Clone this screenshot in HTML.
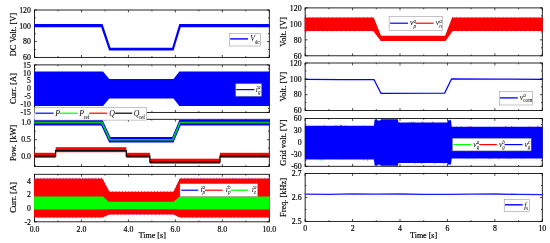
<!DOCTYPE html>
<html lang="en"><head><meta charset="utf-8"><title>Simulation results</title>
<style>html,body{margin:0;padding:0;background:#fff}svg{display:block}text{font-family:"Liberation Serif", serif;fill:#000;stroke:#000;stroke-width:0.18px}.t{font-size:7.8px}.l{font-size:8px}.yl{font-size:8.4px}.i{font-style:italic;stroke:none}</style>
</head><body>
<svg width="550" height="243" viewBox="0 0 550 243">
<rect width="550" height="243" fill="#fff"/>
<clipPath id="cL1"><rect x="34.05" y="10" width="235.7" height="47.4"/></clipPath>
<path d="M34.5,57.4v-2.4M34.5,10v2.4M81.46,57.4v-2.4M81.46,10v2.4M128.42,57.4v-2.4M128.42,10v2.4M175.38,57.4v-2.4M175.38,10v2.4M222.34,57.4v-2.4M222.34,10v2.4M269.3,57.4v-2.4M269.3,10v2.4M57.98,57.4v-1.3M57.98,10v1.3M104.94,57.4v-1.3M104.94,10v1.3M151.9,57.4v-1.3M151.9,10v1.3M198.86,57.4v-1.3M198.86,10v1.3M245.82,57.4v-1.3M245.82,10v1.3M34.5,57.4h2.4M269.3,57.4h-2.4M34.5,41.6h2.4M269.3,41.6h-2.4M34.5,25.8h2.4M269.3,25.8h-2.4M34.5,10h2.4M269.3,10h-2.4M34.5,49.5h1.3M269.3,49.5h-1.3M34.5,33.7h1.3M269.3,33.7h-1.3M34.5,17.9h1.3M269.3,17.9h-1.3" stroke="#000" stroke-width="0.7" fill="none"/>
<rect x="34.5" y="10" width="234.8" height="47.4" fill="none" stroke="#000" stroke-width="0.85"/>
<text x="30.9" y="60.1" text-anchor="end" class="t">60</text>
<text x="30.9" y="44.3" text-anchor="end" class="t">80</text>
<text x="30.9" y="28.5" text-anchor="end" class="t">100</text>
<text x="30.9" y="12.7" text-anchor="end" class="t">120</text>
<polygon points="34.05,24.05 102.59,24.05 110.5,47.7 172.16,47.7 179.3,24.05 269.75,24.05 269.75,27.35 180.71,27.35 173.57,50.5 109.1,50.5 101.18,27.35 34.05,27.35" fill="#0000ff" clip-path="url(#cL1)"/>
<rect x="229.3" y="33.3" width="31.1" height="12.7" fill="#fff" stroke="#8a8a8a" stroke-width="0.5"/>
<line x1="230.2" y1="38.9" x2="248" y2="38.9" stroke="#0000ff" stroke-width="1.4"/>
<text x="250.2" y="41.2" class="i" font-size="7.8">V<tspan font-size="5.4" dy="2.4" dx="-0.3" font-style="normal">dc</tspan></text>
<text transform="translate(15.6,34.6) rotate(-90)" text-anchor="middle" class="yl">DC Volt. [V]</text>
<path d="M34.5,112.4v-2.4M34.5,64.9v2.4M81.46,112.4v-2.4M81.46,64.9v2.4M128.42,112.4v-2.4M128.42,64.9v2.4M175.38,112.4v-2.4M175.38,64.9v2.4M222.34,112.4v-2.4M222.34,64.9v2.4M269.3,112.4v-2.4M269.3,64.9v2.4M57.98,112.4v-1.3M57.98,64.9v1.3M104.94,112.4v-1.3M104.94,64.9v1.3M151.9,112.4v-1.3M151.9,64.9v1.3M198.86,112.4v-1.3M198.86,64.9v1.3M245.82,112.4v-1.3M245.82,64.9v1.3M34.5,112.4h2.4M269.3,112.4h-2.4M34.5,104.48h2.4M269.3,104.48h-2.4M34.5,96.57h2.4M269.3,96.57h-2.4M34.5,88.65h2.4M269.3,88.65h-2.4M34.5,80.73h2.4M269.3,80.73h-2.4M34.5,72.82h2.4M269.3,72.82h-2.4M34.5,64.9h2.4M269.3,64.9h-2.4M34.5,108.44h1.3M269.3,108.44h-1.3M34.5,100.53h1.3M269.3,100.53h-1.3M34.5,92.61h1.3M269.3,92.61h-1.3M34.5,84.69h1.3M269.3,84.69h-1.3M34.5,76.78h1.3M269.3,76.78h-1.3M34.5,68.86h1.3M269.3,68.86h-1.3" stroke="#000" stroke-width="0.7" fill="none"/>
<rect x="34.5" y="64.9" width="234.8" height="47.5" fill="none" stroke="#000" stroke-width="0.85"/>
<text x="30.9" y="115.1" text-anchor="end" class="t">-15</text>
<text x="30.9" y="107.18" text-anchor="end" class="t">-10</text>
<text x="30.9" y="99.27" text-anchor="end" class="t">-5</text>
<text x="30.9" y="91.35" text-anchor="end" class="t">0</text>
<text x="30.9" y="83.43" text-anchor="end" class="t">5</text>
<text x="30.9" y="75.52" text-anchor="end" class="t">10</text>
<text x="30.9" y="67.6" text-anchor="end" class="t">15</text>
<polygon points="34.05,71.4 103.06,71.4 109.31,78.9 173.5,78.9 179.37,71.4 269.75,71.4 269.75,105.9 179.37,105.9 173.5,98.4 109.31,98.4 103.06,105.9 34.05,105.9" fill="#0000ff"/>
<rect x="235.8" y="83.8" width="25.7" height="12.4" fill="#fff" stroke="#8a8a8a" stroke-width="0.5"/>
<line x1="236.3" y1="89.6" x2="254.3" y2="89.6" stroke="#0000ff" stroke-width="1.2"/>
<text x="255.8" y="91.5" class="i" font-size="7.8">i<tspan font-size="5.2" dy="-2.7">a</tspan><tspan font-size="5.2" dy="4.9" dx="-2.6">g</tspan></text>
<text transform="translate(15.6,88.6) rotate(-90)" text-anchor="middle" class="yl">Curr. [A]</text>
<clipPath id="cL3"><rect x="34.05" y="119.3" width="235.7" height="47.2"/></clipPath>
<path d="M34.5,166.5v-2.4M34.5,119.3v2.4M81.46,166.5v-2.4M81.46,119.3v2.4M128.42,166.5v-2.4M128.42,119.3v2.4M175.38,166.5v-2.4M175.38,119.3v2.4M222.34,166.5v-2.4M222.34,119.3v2.4M269.3,166.5v-2.4M269.3,119.3v2.4M57.98,166.5v-1.3M57.98,119.3v1.3M104.94,166.5v-1.3M104.94,119.3v1.3M151.9,166.5v-1.3M151.9,119.3v1.3M198.86,166.5v-1.3M198.86,119.3v1.3M245.82,166.5v-1.3M245.82,119.3v1.3M34.5,156.7h2.4M269.3,156.7h-2.4M34.5,139.7h2.4M269.3,139.7h-2.4M34.5,122.7h2.4M269.3,122.7h-2.4M34.5,165.2h1.3M269.3,165.2h-1.3M34.5,148.2h1.3M269.3,148.2h-1.3M34.5,131.2h1.3M269.3,131.2h-1.3" stroke="#000" stroke-width="0.7" fill="none"/>
<rect x="34.5" y="119.3" width="234.8" height="47.2" fill="none" stroke="#000" stroke-width="0.85"/>
<text x="30.9" y="159.4" text-anchor="end" class="t">0.0</text>
<text x="30.9" y="142.4" text-anchor="end" class="t">0.5</text>
<text x="30.9" y="125.4" text-anchor="end" class="t">1.0</text>
<polygon points="34.05,119.9 102.55,119.9 110.46,136.9 172.21,136.9 179.35,119.9 269.75,119.9 269.75,125.6 180.66,125.6 173.53,142.6 109.14,142.6 101.23,125.6 34.05,125.6" fill="#0000ff" clip-path="url(#cL3)"/>
<polyline points="34.05,122.55 101.89,122.55 109.8,139.65 172.87,139.65 180.01,122.55 269.75,122.55" fill="none" stroke="#00f000" stroke-width="1.5" clip-path="url(#cL3)" stroke-linejoin="round"/>
<polyline points="34.05,122.55 101.89,122.55 109.8,139.65 172.87,139.65 180.01,122.55 269.75,122.55" fill="none" stroke="#008a30" stroke-width="0.4" clip-path="url(#cL3)" stroke-linejoin="round"/>
<rect x="34.05" y="152.8" width="21.58" height="5" fill="#ff0000"/>
<rect x="55.63" y="147.2" width="70.67" height="5" fill="#ff0000"/>
<rect x="126.31" y="152.8" width="23.6" height="5" fill="#ff0000"/>
<rect x="149.9" y="158.7" width="70.09" height="5" fill="#ff0000"/>
<rect x="219.99" y="152.8" width="49.76" height="5" fill="#ff0000"/>
<polyline points="34.05,156.15 55.63,156.15 55.63,150.55 126.31,150.55 126.31,156.15 149.9,156.15 149.9,162.05 219.99,162.05 219.99,156.15 269.75,156.15" fill="none" stroke="#000" stroke-width="1.3" clip-path="url(#cL3)" stroke-linejoin="miter"/>
<text transform="translate(15.6,143) rotate(-90)" text-anchor="middle" class="yl">Pow. [kW]</text>
<rect x="34.6" y="107.5" width="112.1" height="12.6" fill="#fff" stroke="#8a8a8a" stroke-width="0.5"/>
<line x1="35.4" y1="113.2" x2="53.5" y2="113.2" stroke="#0000ff" stroke-width="1.2"/>
<text x="55.2" y="116.2" class="i" font-size="7.8">P</text>
<line x1="59.6" y1="113.2" x2="77.7" y2="113.2" stroke="#00ff00" stroke-width="1.2"/>
<text x="79.2" y="116.2" class="i" font-size="7.8">P<tspan font-size="5.4" dy="2.4" dx="-0.3" font-style="normal">ref</tspan></text>
<line x1="89.3" y1="113.2" x2="107" y2="113.2" stroke="#ff0000" stroke-width="1.2"/>
<text x="109.2" y="116.2" class="i" font-size="7.8">Q</text>
<line x1="115.2" y1="113.2" x2="132.3" y2="113.2" stroke="#000" stroke-width="1.2"/>
<text x="133.8" y="116.2" class="i" font-size="7.8">Q<tspan font-size="5.4" dy="2.4" dx="-0.3" font-style="normal">ref</tspan></text>
<path d="M34.5,221.8v-2.4M34.5,174.3v2.4M81.46,221.8v-2.4M81.46,174.3v2.4M128.42,221.8v-2.4M128.42,174.3v2.4M175.38,221.8v-2.4M175.38,174.3v2.4M222.34,221.8v-2.4M222.34,174.3v2.4M269.3,221.8v-2.4M269.3,174.3v2.4M57.98,221.8v-1.3M57.98,174.3v1.3M104.94,221.8v-1.3M104.94,174.3v1.3M151.9,221.8v-1.3M151.9,174.3v1.3M198.86,221.8v-1.3M198.86,174.3v1.3M245.82,221.8v-1.3M245.82,174.3v1.3M34.5,221.8h2.4M269.3,221.8h-2.4M34.5,208.23h2.4M269.3,208.23h-2.4M34.5,194.66h2.4M269.3,194.66h-2.4M34.5,181.09h2.4M269.3,181.09h-2.4M34.5,215.01h1.3M269.3,215.01h-1.3M34.5,201.44h1.3M269.3,201.44h-1.3M34.5,187.87h1.3M269.3,187.87h-1.3" stroke="#000" stroke-width="0.7" fill="none"/>
<rect x="34.5" y="174.3" width="234.8" height="47.5" fill="none" stroke="#000" stroke-width="0.85"/>
<text x="30.9" y="224.5" text-anchor="end" class="t">-2</text>
<text x="30.9" y="210.93" text-anchor="end" class="t">0</text>
<text x="30.9" y="197.36" text-anchor="end" class="t">2</text>
<text x="30.9" y="183.79" text-anchor="end" class="t">4</text>
<polygon points="34.05,178.4 102.36,178.4 109.4,191.7 173.5,191.7 179.84,178.4 269.75,178.4 269.75,217.5 179.84,217.5 173.5,214.5 109.4,214.5 102.36,217.5 34.05,217.5" fill="#ff0000"/>
<polygon points="34.05,196.6 103.06,196.6 108.7,201.8 173.5,201.8 179.84,196.6 269.75,196.6 269.75,209.4 179.84,209.4 173.5,209.3 109.4,209.3 102.36,209.4 34.05,209.4" fill="#00ff00"/>
<polyline points="34.05,178.25 102.36,178.25 109.4,191.55 173.5,191.55 179.84,178.25 269.75,178.25" fill="none" stroke="#0000ff" stroke-width="0.7" stroke-dasharray="0.9 2.3" opacity="0.75"/>
<polyline points="34.05,217.65 102.36,217.65 109.4,214.65 173.5,214.65 179.84,217.65 269.75,217.65" fill="none" stroke="#0000ff" stroke-width="0.7" stroke-dasharray="0.9 2.9" opacity="0.75"/>
<rect x="180" y="183.8" width="77.7" height="12.8" fill="#fff" stroke="#8a8a8a" stroke-width="0.5"/>
<line x1="181.3" y1="190.2" x2="198.2" y2="190.2" stroke="#0000ff" stroke-width="1.2"/>
<text x="200.4" y="192" class="i" font-size="7.8">i<tspan font-size="5.2" dy="-2.7">a</tspan><tspan font-size="5.2" dy="4.9" dx="-2.6">p</tspan></text>
<line x1="204.9" y1="190.2" x2="222.5" y2="190.2" stroke="#ff0000" stroke-width="1.2"/>
<text x="225.8" y="192" class="i" font-size="7.8">i<tspan font-size="5.2" dy="-2.7">b</tspan><tspan font-size="5.2" dy="4.9" dx="-2.6">p</tspan></text>
<line x1="230.7" y1="190.2" x2="248.2" y2="190.2" stroke="#00ff00" stroke-width="1.2"/>
<text x="251.8" y="192" class="i" font-size="7.8">i<tspan font-size="5.2" dy="-2.7">a</tspan><tspan font-size="5.2" dy="4.9" dx="-2.6">z</tspan></text>
<text transform="translate(15.6,197.5) rotate(-90)" text-anchor="middle" class="yl">Curr. [A]</text>
<text x="34.5" y="231.6" text-anchor="middle" class="t">0.0</text>
<text x="81.46" y="231.6" text-anchor="middle" class="t">2.0</text>
<text x="128.42" y="231.6" text-anchor="middle" class="t">4.0</text>
<text x="175.38" y="231.6" text-anchor="middle" class="t">6.0</text>
<text x="222.34" y="231.6" text-anchor="middle" class="t">8.0</text>
<text x="269.3" y="231.6" text-anchor="middle" class="t">10.0</text>
<text x="152.3" y="238.2" text-anchor="middle" class="l">Time [s]</text>
<path d="M305.15,55.8v-2.4M305.15,7.9v2.4M352.58,55.8v-2.4M352.58,7.9v2.4M400.01,55.8v-2.4M400.01,7.9v2.4M447.44,55.8v-2.4M447.44,7.9v2.4M494.87,55.8v-2.4M494.87,7.9v2.4M542.3,55.8v-2.4M542.3,7.9v2.4M328.86,55.8v-1.3M328.86,7.9v1.3M376.29,55.8v-1.3M376.29,7.9v1.3M423.72,55.8v-1.3M423.72,7.9v1.3M471.15,55.8v-1.3M471.15,7.9v1.3M518.59,55.8v-1.3M518.59,7.9v1.3M305.15,55.8h2.4M542.3,55.8h-2.4M305.15,39.83h2.4M542.3,39.83h-2.4M305.15,23.87h2.4M542.3,23.87h-2.4M305.15,7.9h2.4M542.3,7.9h-2.4M305.15,47.82h1.3M542.3,47.82h-1.3M305.15,31.85h1.3M542.3,31.85h-1.3M305.15,15.88h1.3M542.3,15.88h-1.3" stroke="#000" stroke-width="0.7" fill="none"/>
<rect x="305.15" y="7.9" width="237.15" height="47.9" fill="none" stroke="#000" stroke-width="0.85"/>
<text x="301.55" y="58.5" text-anchor="end" class="t">60</text>
<text x="301.55" y="42.53" text-anchor="end" class="t">80</text>
<text x="301.55" y="26.57" text-anchor="end" class="t">100</text>
<text x="301.55" y="10.6" text-anchor="end" class="t">120</text>
<polygon points="304.7,17.5 373.69,17.5 381.04,35.8 445.07,35.8 452.18,17.5 542.75,17.5 542.75,30.9 452.66,30.9 445.54,41 380.8,41 373.21,30.9 304.7,30.9" fill="#ff0000"/>
<polyline points="304.7,17.35 373.69,17.35" fill="none" stroke="#0000ff" stroke-width="0.6" stroke-dasharray="0.8 3.1" opacity="0.7"/>
<polyline points="452.18,17.35 542.75,17.35" fill="none" stroke="#0000ff" stroke-width="0.6" stroke-dasharray="0.8 3.1" opacity="0.7"/>
<polyline points="304.7,31.05 373.21,31.05" fill="none" stroke="#0000ff" stroke-width="0.6" stroke-dasharray="0.8 3.7" opacity="0.7"/>
<polyline points="452.66,31.05 542.75,31.05" fill="none" stroke="#0000ff" stroke-width="0.6" stroke-dasharray="0.8 3.7" opacity="0.7"/>
<rect x="389.1" y="16.5" width="53.2" height="13.8" fill="#fff" stroke="#8a8a8a" stroke-width="0.5"/>
<line x1="390.1" y1="23.2" x2="408.1" y2="23.2" stroke="#0000ff" stroke-width="1.2"/>
<text x="410.1" y="25.4" class="i" font-size="7.8">v<tspan font-size="5.2" dy="-2.7">a</tspan><tspan font-size="5.2" dy="4.9" dx="-2.6">p</tspan></text>
<line x1="415.6" y1="23.2" x2="433.5" y2="23.2" stroke="#ff0000" stroke-width="1.2"/>
<text x="435.7" y="25.4" class="i" font-size="7.8">v<tspan font-size="5.2" dy="-2.7">a</tspan><tspan font-size="5.2" dy="4.9" dx="-2.6">n</tspan></text>
<text transform="translate(285.6,32) rotate(-90)" text-anchor="middle" class="yl">Volt. [V]</text>
<path d="M305.15,110.5v-2.4M305.15,63v2.4M352.58,110.5v-2.4M352.58,63v2.4M400.01,110.5v-2.4M400.01,63v2.4M447.44,110.5v-2.4M447.44,63v2.4M494.87,110.5v-2.4M494.87,63v2.4M542.3,110.5v-2.4M542.3,63v2.4M328.86,110.5v-1.3M328.86,63v1.3M376.29,110.5v-1.3M376.29,63v1.3M423.72,110.5v-1.3M423.72,63v1.3M471.15,110.5v-1.3M471.15,63v1.3M518.59,110.5v-1.3M518.59,63v1.3M305.15,110.5h2.4M542.3,110.5h-2.4M305.15,94.67h2.4M542.3,94.67h-2.4M305.15,78.83h2.4M542.3,78.83h-2.4M305.15,63h2.4M542.3,63h-2.4M305.15,102.58h1.3M542.3,102.58h-1.3M305.15,86.75h1.3M542.3,86.75h-1.3M305.15,70.92h1.3M542.3,70.92h-1.3" stroke="#000" stroke-width="0.7" fill="none"/>
<rect x="305.15" y="63" width="237.15" height="47.5" fill="none" stroke="#000" stroke-width="0.85"/>
<text x="301.55" y="113.2" text-anchor="end" class="t">60</text>
<text x="301.55" y="97.37" text-anchor="end" class="t">80</text>
<text x="301.55" y="81.53" text-anchor="end" class="t">100</text>
<text x="301.55" y="65.7" text-anchor="end" class="t">120</text>
<polyline points="304.7,79.3 340.72,79.6 373.92,79.5 381.04,93.45 444.59,93.2 451.47,78.9 494.87,79.1 542.75,79.4" fill="none" stroke="#0000ff" stroke-width="1.25" stroke-linejoin="round"/>
<rect x="499.3" y="91.5" width="33.4" height="13.5" fill="#fff" stroke="#8a8a8a" stroke-width="0.5"/>
<line x1="499.9" y1="97.9" x2="517.8" y2="97.9" stroke="#0000ff" stroke-width="1.3"/>
<text x="519.8" y="100" class="i" font-size="7.8">v<tspan font-size="5.2" dy="-2.7">a</tspan><tspan font-size="5.3" dy="5.1" dx="-2.6" font-style="normal">com</tspan></text>
<text transform="translate(285.6,86.8) rotate(-90)" text-anchor="middle" class="yl">Volt. [V]</text>
<clipPath id="cR3"><rect x="304.7" y="118.5" width="238.05" height="47.8"/></clipPath>
<path d="M305.15,166.3v-2.4M305.15,118.5v2.4M352.58,166.3v-2.4M352.58,118.5v2.4M400.01,166.3v-2.4M400.01,118.5v2.4M447.44,166.3v-2.4M447.44,118.5v2.4M494.87,166.3v-2.4M494.87,118.5v2.4M542.3,166.3v-2.4M542.3,118.5v2.4M328.86,166.3v-1.3M328.86,118.5v1.3M376.29,166.3v-1.3M376.29,118.5v1.3M423.72,166.3v-1.3M423.72,118.5v1.3M471.15,166.3v-1.3M471.15,118.5v1.3M518.59,166.3v-1.3M518.59,118.5v1.3M305.15,166.3h2.4M542.3,166.3h-2.4M305.15,154.35h2.4M542.3,154.35h-2.4M305.15,142.4h2.4M542.3,142.4h-2.4M305.15,130.45h2.4M542.3,130.45h-2.4M305.15,118.5h2.4M542.3,118.5h-2.4M305.15,160.33h1.3M542.3,160.33h-1.3M305.15,148.38h1.3M542.3,148.38h-1.3M305.15,136.43h1.3M542.3,136.43h-1.3M305.15,124.48h1.3M542.3,124.48h-1.3" stroke="#000" stroke-width="0.7" fill="none"/>
<rect x="305.15" y="118.5" width="237.15" height="47.8" fill="none" stroke="#000" stroke-width="0.85"/>
<text x="301.55" y="169" text-anchor="end" class="t">-60</text>
<text x="301.55" y="157.05" text-anchor="end" class="t">-30</text>
<text x="301.55" y="145.1" text-anchor="end" class="t">0</text>
<text x="301.55" y="133.15" text-anchor="end" class="t">30</text>
<text x="301.55" y="121.2" text-anchor="end" class="t">60</text>
<path d="M382.36,165.5v0.96M317.67,126.1v-0.93M319.95,159.3v0.63M408.15,122.9v-0.82M435.71,162.7v1.34M335.4,126.1v-1.17M443.21,162.7v1.12M399.47,122.9v-0.64M466.46,158.1v1.12M473.52,158.1v1.16M364.66,126.1v-1.23M536.46,158.1v1.06M421.13,162.7v1.47M413.44,122.9v-1.45M417.64,162.7v0.65M414.73,122.9v-1.15M422.24,162.7v1.29M336.7,126.1v-0.96M341.77,159.3v0.74M460.94,127v-1.04M381.14,165.5v1.22M427.36,122.9v-1.01M320.95,159.3v1.49M409.79,122.9v-0.91M318.68,159.3v1.11M322.84,159.3v1.15M379.55,164.5v0.69M468.82,158.1v0.78M433.86,162.7v1.28M376.32,119.77v-1.23M389.85,119.6v-1.08M450.31,120.6v-1.33M498.46,158.1v0.78M422.03,122.9v-1.49" stroke="#00ff00" stroke-width="0.7" fill="none" clip-path="url(#cR3)"/>
<path d="M507.89,158.1v0.98M433.28,122.9v-1.1M456.34,127v-0.69M422.88,122.9v-1.3M415.65,162.7v0.93M363.64,159.3v1.07M511.8,127v-0.86M345.07,126.1v-0.74M324.56,126.1v-0.91M388.55,165.5v1.12M471.03,127v-0.86M396.91,165.5v0.62M521.58,158.1v0.67M411.8,122.9v-1.4M498.69,158.1v1.24M537.94,127v-1.46M444.65,162.7v0.85M340.54,126.1v-1.15M510.82,158.1v0.96M398.87,122.9v-1.17M432.32,122.9v-1.15M341.21,126.1v-1.46M447.74,164.3v0.71M505.65,127v-1.03M386.78,119.6v-1.03M529.85,127v-0.73M367.64,159.3v1.42M489.24,158.1v1.17M491.84,158.1v0.83M468.93,127v-1" stroke="#ff0000" stroke-width="0.7" fill="none" clip-path="url(#cR3)"/>
<polygon points="304.7,125.8 373.92,125.8 374.63,119.6 377.24,119.4 377.72,120.6 380.33,120.6 380.8,119.3 397.88,119.3 398.35,122.6 447.2,122.6 447.68,120.3 451,120.3 451.71,126.7 542.75,126.7 542.75,158.4 451.71,158.4 451,164.6 447.68,164.6 447.2,163 398.35,163 397.88,165.8 380.8,165.8 380.33,164.8 377.72,164.8 377.24,165.6 374.63,165.4 373.92,159.6 304.7,159.6" fill="#0000ff" clip-path="url(#cR3)"/>
<rect x="452.6" y="138.3" width="78.5" height="12.6" fill="#fff" stroke="#8a8a8a" stroke-width="0.5"/>
<line x1="453.3" y1="144.6" x2="471.2" y2="144.6" stroke="#00ff00" stroke-width="1.2"/>
<text x="473.2" y="146.6" class="i" font-size="7.8">v<tspan font-size="5.2" dy="-2.7">a</tspan><tspan font-size="5.2" dy="4.9" dx="-2.6">g</tspan></text>
<line x1="479.2" y1="144.6" x2="496.8" y2="144.6" stroke="#ff0000" stroke-width="1.2"/>
<text x="498.9" y="146.6" class="i" font-size="7.8">v<tspan font-size="5.2" dy="-2.7">b</tspan><tspan font-size="5.2" dy="4.9" dx="-2.6">g</tspan></text>
<line x1="504.6" y1="144.6" x2="522.5" y2="144.6" stroke="#0000ff" stroke-width="1.2"/>
<text x="524.6" y="146.6" class="i" font-size="7.8">v<tspan font-size="5.2" dy="-2.7">c</tspan><tspan font-size="5.2" dy="4.9" dx="-2.6">g</tspan></text>
<text transform="translate(285.6,142.5) rotate(-90)" text-anchor="middle" class="yl">Grid volt. [V]</text>
<path d="M305.15,221.4v-2.4M305.15,173.5v2.4M352.58,221.4v-2.4M352.58,173.5v2.4M400.01,221.4v-2.4M400.01,173.5v2.4M447.44,221.4v-2.4M447.44,173.5v2.4M494.87,221.4v-2.4M494.87,173.5v2.4M542.3,221.4v-2.4M542.3,173.5v2.4M328.86,221.4v-1.3M328.86,173.5v1.3M376.29,221.4v-1.3M376.29,173.5v1.3M423.72,221.4v-1.3M423.72,173.5v1.3M471.15,221.4v-1.3M471.15,173.5v1.3M518.59,221.4v-1.3M518.59,173.5v1.3M305.15,221.4h2.4M542.3,221.4h-2.4M305.15,197.45h2.4M542.3,197.45h-2.4M305.15,173.5h2.4M542.3,173.5h-2.4M305.15,209.43h1.3M542.3,209.43h-1.3M305.15,185.48h1.3M542.3,185.48h-1.3" stroke="#000" stroke-width="0.7" fill="none"/>
<rect x="305.15" y="173.5" width="237.15" height="47.9" fill="none" stroke="#000" stroke-width="0.85"/>
<text x="301.55" y="224.1" text-anchor="end" class="t">2.5</text>
<text x="301.55" y="200.15" text-anchor="end" class="t">2.6</text>
<text x="301.55" y="176.2" text-anchor="end" class="t">2.7</text>
<polyline points="304.7,194.1 328.86,194.3 352.58,193.9 376.29,194.2 400.01,194 423.72,194.4 447.44,194.3 471.15,194.1 494.87,194 518.59,194.4 542.75,194.7" fill="none" stroke="#1a1aff" stroke-width="1.3" stroke-linejoin="round"/>
<rect x="504.2" y="199.6" width="25.4" height="11.9" fill="#fff" stroke="#8a8a8a" stroke-width="0.5"/>
<line x1="505" y1="204.8" x2="522.7" y2="204.8" stroke="#0000ff" stroke-width="1.4"/>
<text x="524.2" y="207.6" class="i" font-size="7.8">f<tspan font-size="5.4" dy="2.4" dx="-0.3" font-style="normal">s</tspan></text>
<text transform="translate(285.6,197.5) rotate(-90)" text-anchor="middle" class="yl">Freq. [kHz]</text>
<text x="305.15" y="231.2" text-anchor="middle" class="t">0</text>
<text x="352.58" y="231.2" text-anchor="middle" class="t">2</text>
<text x="400.01" y="231.2" text-anchor="middle" class="t">4</text>
<text x="447.44" y="231.2" text-anchor="middle" class="t">6</text>
<text x="494.87" y="231.2" text-anchor="middle" class="t">8</text>
<text x="542.3" y="231.2" text-anchor="middle" class="t">10</text>
<text x="423.6" y="238.4" text-anchor="middle" class="l">Time [s]</text>
</svg></body></html>
